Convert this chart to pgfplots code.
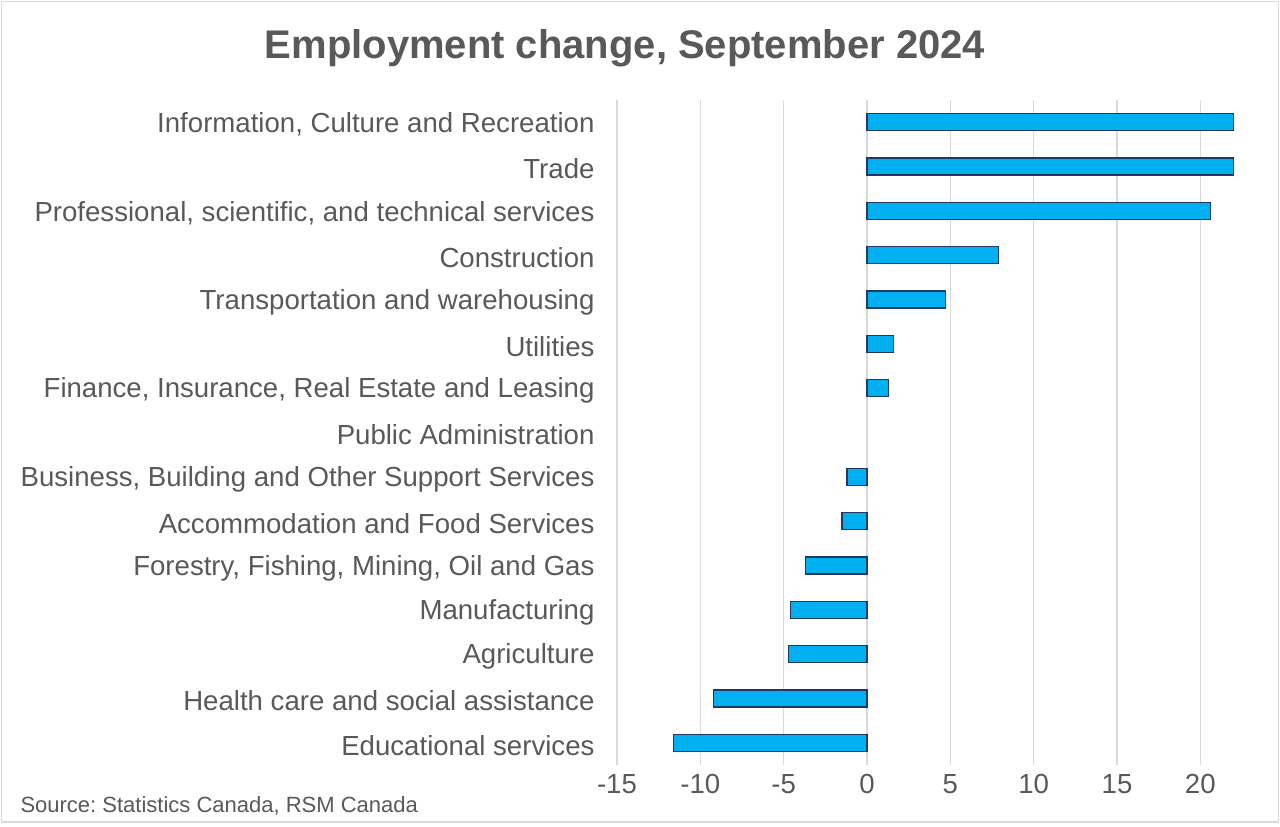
\documentclass[border=0pt]{standalone}
\usepackage{pgfplots}
\pgfplotsset{compat=1.18}
\usepackage{fontspec}
\setmainfont{Liberation Sans}
\frenchspacing
\definecolor{barblue}{HTML}{00B0F0}
\definecolor{baredge}{HTML}{1F3864}
\definecolor{txtgray}{HTML}{595959}
\definecolor{gridgray}{HTML}{D9D9D9}
\begin{document}
\begin{tikzpicture}[x=1pt,y=1pt]
\fill[white] (0,0) rectangle (1280,827);
\draw[gridgray,line width=1.5pt] (1.5,5) rectangle (1278.5,825.5);
\node[text=txtgray,font=\bfseries\fontsize{40}{46}\selectfont] at (625,779) {Employment change, September 2024};
\node[text=txtgray,font=\fontsize{22}{26}\selectfont,anchor=west] at (17,21) {Source: Statistics Canada, RSM Canada};
\begin{axis}[
    at={(617pt,62pt)}, anchor=south west,
    scale only axis,
    width=625pt, height=665pt,
    xbar, bar width=17pt,
    xmin=-15, xmax=22.5,
    ymin=-0.5, ymax=14.5,
    xtick={-15,-10,...,20},
    ytick={0,...,14},
    yticklabels={Educational services,Health care and social assistance,Agriculture,Manufacturing,{Forestry, Fishing, Mining, Oil and Gas},Accommodation and Food Services,{Business, Building and Other Support Services},Public Administration,{Finance, Insurance, Real Estate and Leasing},Utilities,Transportation and warehousing,Construction,{Professional, scientific, and technical services},Trade,{Information, Culture and Recreation}},
    axis line style={draw=none},
    major tick length=0pt,
    xmajorgrids, grid style={gridgray,line width=1.3pt},
    ymajorgrids=false,
    /pgf/number format/assume math mode=true,
    tick label style={text=txtgray,font=\fontsize{27.6}{32}\selectfont},
    xticklabel style={yshift=-6pt},
    yticklabel style={xshift=-19pt,yshift=-2.5pt},
    ]
% Public Administration (0) draws no bar
\addplot[fill=barblue,draw=baredge,line width=1.6pt] coordinates {
  (-11.6,0) (-9.2,1) (-4.7,2) (-4.6,3) (-3.7,4) (-1.5,5) (-1.2,6)
  (1.3,8) (1.6,9) (4.7,10) (7.9,11) (20.6,12) (22,13) (22,14)};
\end{axis}
\end{tikzpicture}
\end{document}
